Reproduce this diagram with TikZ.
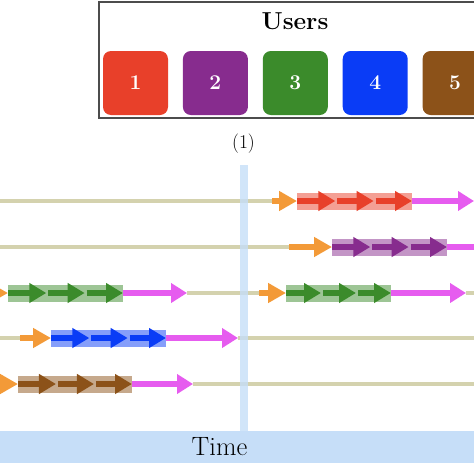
\documentclass[tikz,border=0pt]{standalone}
\usepackage{fontspec}
\usetikzlibrary{positioning,arrows.meta}
\definecolor{user1}{HTML}{E8402A}
\definecolor{user2}{HTML}{872C8E}
\definecolor{user3}{HTML}{3B8B2B}
\definecolor{user4}{HTML}{0A3CF6}
\definecolor{user5}{HTML}{8C5219}
\definecolor{waitcol}{HTML}{F39A38}
\definecolor{donecol}{HTML}{E65CEF}
\definecolor{idlecol}{HTML}{D4D2AE}
\definecolor{timecol}{HTML}{C6DEF8}
\tikzset{
  userbox/.style={rectangle, rounded corners=8pt, minimum width=65pt,
    minimum height=64pt, text=white, font=\fontsize{21}{24}\selectfont\bfseries},
  idle/.style={draw=idlecol, line width=4.5pt},
  wait/.style={draw=waitcol, line width=6pt, -{Triangle[length=18pt,width=19pt]}},
  done/.style={draw=donecol, line width=6pt, -{Triangle[length=16pt,width=19pt]}},
  run/.style={line width=6pt, -{Triangle[length=17pt,width=19pt]}},
}
% one job: box from #2 to #3, three arrows inside
\newcommand{\task}[4]{%
  \fill[#4!50] ([yshift=8.5pt]#2) rectangle ([yshift=-8.5pt]#3);
  \path (#2) -- (#3) coordinate[pos=1/3] (#1-a) coordinate[pos=2/3] (#1-b);
  \draw[run, #4] (#2) -- (#1-a);
  \draw[run, #4] ([xshift=2pt]#1-a) -- (#1-b);
  \draw[run, #4] ([xshift=2pt]#1-b) -- (#3);
}

\begin{document}
\begin{tikzpicture}[x=1pt, y=-1pt]
    \clip (0,0) rectangle (474,474);

    % users
    \draw[gray!60!black, line width=1.5pt] (99,2) rectangle (490,118);
    \node[font=\fontsize{24.5}{28}\selectfont\bfseries] (users) at (295,21) {Users};
    \node[userbox, fill=user1] (u1) at (135.5,83) {1};
    \node[userbox, fill=user2, right=14.5pt of u1] (u2) {2};
    \node[userbox, fill=user3, right=14.5pt of u2] (u3) {3};
    \node[userbox, fill=user4, right=14.5pt of u3] (u4) {4};
    \node[userbox, fill=user5, right=14.5pt of u4] (u5) {5};

    % time band
    \fill[timecol] (0,431) rectangle (474,463);
    \node[font=\fontsize{26.5}{30}\selectfont] (time) at (219.5,447) {Time};

    % row 1
    \foreach \n/\x in {0/0, 1/272, 2/297, 3/412, 4/474}
        \coordinate (r1-\n) at (\x,201);
    \draw[idle] (r1-0) -- (r1-1);
    \draw[wait] (r1-1) -- (r1-2);
    \task{job1}{r1-2}{r1-3}{user1}
    \draw[done] (r1-3) -- (r1-4);

    % row 2
    \foreach \n/\x in {0/0, 1/289, 2/332, 3/447, 4/500}
        \coordinate (r2-\n) at (\x,247);
    \draw[idle] (r2-0) -- (r2-1);
    \draw[wait] (r2-1) -- (r2-2);
    \task{job2}{r2-2}{r2-3}{user2}
    \draw[done] (r2-3) -- (r2-4);

    % row 3
    \foreach \n/\x in {0/-15, 1/8, 2/123, 3/187, 4/259, 5/286, 6/391, 7/466, 8/474}
        \coordinate (r3-\n) at (\x,293);
    \draw[wait] (r3-0) -- (r3-1);
    \task{job3}{r3-1}{r3-2}{user3}
    \draw[done] (r3-2) -- (r3-3);
    \draw[idle] (r3-3) -- (r3-4);
    \draw[wait] (r3-4) -- (r3-5);
    \task{job3b}{r3-5}{r3-6}{user3}
    \draw[done] (r3-6) -- (r3-7);
    \draw[idle] (r3-7) -- (r3-8);

    % row 4
    \foreach \n/\x in {0/0, 1/20, 2/51, 3/166, 4/238, 5/474}
        \coordinate (r4-\n) at (\x,338);
    \draw[idle] (r4-0) -- (r4-1);
    \draw[wait] (r4-1) -- (r4-2);
    \task{job4}{r4-2}{r4-3}{user4}
    \draw[done] (r4-3) -- (r4-4);
    \draw[idle] (r4-4) -- (r4-5);

    % row 5
    \foreach \n/\x in {0/-10, 1/18, 2/132, 3/193, 4/474}
        \coordinate (r5-\n) at (\x,384);
    \draw[wait] (r5-0) -- (r5-1);
    \task{job5}{r5-1}{r5-2}{user5}
    \draw[done] (r5-2) -- (r5-3);
    \draw[idle] (r5-3) -- (r5-4);

    % marker
    \coordinate (bar top) at (243.5,165);
    \coordinate (bar bottom) at (243.5,431);
    \draw[timecol, line width=8pt, opacity=0.8] (bar top) -- (bar bottom);
    \node[font=\fontsize{19.5}{22}\selectfont] (mark) at (243.5,144) {(1)};
\end{tikzpicture}
\end{document}
